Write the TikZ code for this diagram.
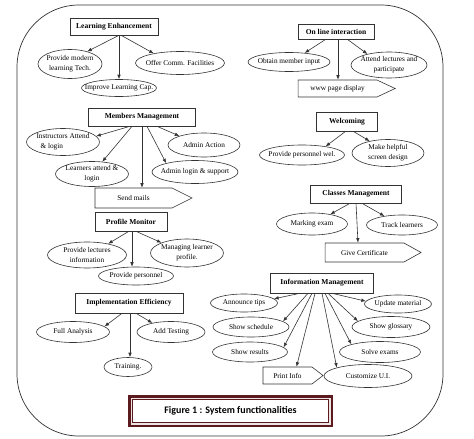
\documentclass[tikz,border=0pt]{standalone}
\usepackage{fontspec}
\setmainfont{Liberation Serif}
\newfontfamily\capfont{Carlito}
\usetikzlibrary{shapes.geometric,shapes.symbols,arrows.meta}
\definecolor{ln}{HTML}{333333}
\definecolor{capred}{HTML}{5A1A1E}
\definecolor{capbg}{HTML}{EFE4E4}
\begin{document}
\begin{tikzpicture}[x=1pt,y=-1pt,
 box/.style={draw=ln, line width=0.6pt, rectangle, inner sep=0pt, font=\fontsize{7.5}{9}\selectfont\bfseries},
 ell/.style={draw=ln, line width=0.6pt, ellipse, inner sep=0pt},
 every label/.style={align=center, inner sep=0pt, font=\fontsize{7.3}{10}\selectfont},
 sig/.style={draw=ln, line width=0.6pt, signal, signal to=east, inner sep=0pt, font=\fontsize{7.3}{10}\selectfont},
 arr/.style={draw=ln, line width=0.6pt, -{Latex[length=4.5pt,width=3.6pt]}},
]
\useasboundingbox (0,0) rectangle (474,439);
\draw[ln, line width=0.7pt, rounded corners=62pt] (17,5) rectangle (443,436);

% Learning Enhancement
\node[box, minimum width=88, minimum height=17] (le) at (114,27) {Learning Enhancement};
\node[ell, minimum width=64, minimum height=29, label=center:{Provide modern\\learning Tech.}] (pm) at (70,64) {};
\node[ell, minimum width=89, minimum height=23, label=center:{Offer Comm. Facilities}] (ocf) at (180,63) {};
\node[ell, minimum width=75, minimum height=17, label=center:{Improve Learning Cap.}] (ilc) at (119,88) {};
\draw[arr] ([xshift=4]le.south) -- (pm.36);
\draw[arr] (le.south -| ilc.north) -- (ilc.north);
\draw[arr] ([xshift=8]le.south) -- (ocf.160);

% On line interaction
\node[box, minimum width=76, minimum height=15] (oli) at (336,32) {On line interaction};
\node[ell, minimum width=82, minimum height=19, label=center:{Obtain member input}] (omi) at (289,62) {};
\node[ell, minimum width=76, minimum height=26, label=center:{Attend lectures and\\participate}] (alp) at (389,65) {};
\node[sig, minimum width=97, minimum height=17, signal pointer angle=50] (wpd) at (337.5,88.5) {www page display};
\draw[arr] ([xshift=-11]oli.south) -- (omi.30);
\draw[arr] ([xshift=2]oli.south) -- ([xshift=2]oli.south |- wpd.north);
\draw[arr] ([xshift=12]oli.south) -- (alp.153);

% Members Management
\node[box, minimum width=107, minimum height=18] (mm) at (142,117) {Members Management};
\node[ell, minimum width=73, minimum height=27, label={[align=left]center:{Instructors Attend\\\hspace{4pt}\& login}}] (iat) at (63,142) {};
\node[ell, minimum width=72, minimum height=24, label=center:{Admin Action}] (aa) at (204,145) {};
\node[ell, minimum width=73, minimum height=25, label=center:{Learners attend \&\\login}] (lal) at (92,174) {};
\node[ell, minimum width=86, minimum height=23, label=center:{Admin login \& support}] (als) at (195,172) {};
\node[sig, minimum width=97, minimum height=20, signal pointer angle=53] (sm) at (133.5,198) {Send mails};
\draw[arr] ([xshift=-12]mm.south) -- (iat.10);
\draw[arr] ([xshift=-10]mm.south) -- (lal.50);
\draw[arr] (mm.south) -- (mm.south |- sm.north);
\draw[arr] ([xshift=5]mm.south) -- (als.163);
\draw[arr] ([xshift=15]mm.south) -- (aa.160);

% Welcoming
\node[box, minimum width=61, minimum height=19] (wel) at (347,122) {Welcoming};
\node[ell, minimum width=85, minimum height=20, label=center:{Provide personnel wel.}] (ppw) at (302,155) {};
\node[ell, minimum width=72, minimum height=27, label=center:{Make helpful\\screen design}] (mhs) at (388,153) {};
\draw[arr] ([xshift=-2]wel.south) -- (ppw.20);
\draw[arr] ([xshift=7]wel.south) -- (mhs.147);

% Classes Management
\node[box, minimum width=91, minimum height=18] (cm) at (356,194) {Classes Management};
\node[ell, minimum width=71, minimum height=22, label=center:{Marking exam}] (me) at (312,224) {};
\node[ell, minimum width=71, minimum height=20, label=center:{Track learners}] (tl) at (402,225) {};
\node[sig, minimum width=96, minimum height=19, signal pointer angle=58] (gc) at (364.5,252.5) {Give Certificate};
\draw[arr] ([xshift=-6]cm.south) -- (me.28);
\draw[arr] (cm.south) -- ([xshift=2]cm.south |- gc.north);
\draw[arr] ([xshift=6]cm.south) -- (tl.153);

% Profile Monitor
\node[box, minimum width=72, minimum height=19] (pmo) at (131,222) {Profile Monitor};
\node[ell, minimum width=79, minimum height=26, label=center:{Provide lectures\\information}] (plin) at (87,255) {};
\node[ell, minimum width=73, minimum height=28, label=center:{Managing learner\\profile.}] (mlp) at (187,253) {};
\node[ell, minimum width=75, minimum height=18, label=center:{Provide personnel}] (pp) at (136,276) {};
\draw[arr] ([xshift=-3]pmo.south) -- (plin.28);
\draw[arr] ([xshift=1]pmo.south) -- ([xshift=1]pmo.south |- pp.north);
\draw[arr] ([xshift=6]pmo.south) -- (mlp.158);

% Implementation Efficiency
\node[box, minimum width=108, minimum height=20] (ie) at (129,303) {Implementation Efficiency};
\node[ell, minimum width=73, minimum height=21, label=center:{Full Analysis}] (fa) at (73,332) {};
\node[ell, minimum width=68, minimum height=21, label=center:{Add Testing}] (addt) at (171,332) {};
\node[ell, minimum width=48, minimum height=19, label=center:{Training.}] (tr) at (128,367) {};
\draw[arr] ([xshift=-7]ie.south) -- (fa.10);
\draw[arr] ([xshift=1]ie.south) -- ([xshift=1]ie.south |- tr.north);
\draw[arr] ([xshift=7]ie.south) -- (addt.154);

% Information Management
\node[box, minimum width=103, minimum height=20] (im) at (322,283) {Information Management};
\node[ell, minimum width=67, minimum height=18, label=center:{Announce tips}] (ant) at (244,303) {};
\node[ell, minimum width=76, minimum height=20, label=center:{Show schedule}] (ssch) at (251,327) {};
\node[ell, minimum width=75, minimum height=20, label=center:{Show results}] (sres) at (250,352) {};
\node[sig, minimum width=60, minimum height=17, signal pointer angle=75] (pi) at (287.5,375.5) {Print Info};
\node[ell, minimum width=67, minimum height=18, label=center:{Update material}] (um) at (398,304) {};
\node[ell, minimum width=78, minimum height=21, label=center:{Show glossary}] (sg) at (391,327) {};
\node[ell, minimum width=81, minimum height=21, label=center:{Solve exams}] (se) at (380,352) {};
\node[ell, minimum width=88, minimum height=23, label=center:{Customize U.I.}] (cui) at (368,376) {};
\draw[arr] ([xshift=-22]im.south) -- (ant.8);
\draw[arr] ([xshift=-14]im.south) -- (ssch.10);
\draw[arr] ([xshift=-10]im.south) -- (sres.8);
\draw[arr] ([xshift=-7]im.south) -- ([xshift=9]pi.north);
\draw[arr] (im.south) -- (cui.165);
\draw[arr] ([xshift=3]im.south) -- (se.165);
\draw[arr] ([xshift=6]im.south) -- (sg.170);
\draw[arr] ([xshift=10]im.south) -- (um.175);

% Caption
\node[draw=capred, line width=2.5pt, fill=capbg, minimum width=202.5, minimum height=29.5, inner sep=0pt] (capbox) at (230.5,411) {};
\node[draw=capred, line width=0.5pt, fill=white, minimum width=196, minimum height=23, inner sep=0pt, font=\capfont\bfseries\fontsize{10}{12}\selectfont] (cap) at (capbox) {Figure 1 : System functionalities};
\end{tikzpicture}
\end{document}
